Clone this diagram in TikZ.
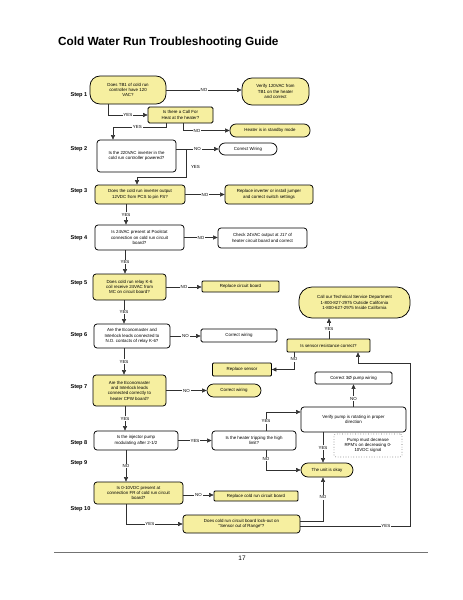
\documentclass[tikz,border=0pt]{standalone}
\usepackage{fontspec}
\setmainfont{Liberation Sans}
\usepackage{xcolor}
\usetikzlibrary{arrows.meta,calc}
\definecolor{boxy}{HTML}{F6EFA0}
\definecolor{wire}{HTML}{303030}
\newcommand{\boxfont}{\fontsize{4.4}{5.3}\selectfont}
\tikzset{
  ybox/.style={draw=black, line width=0.75pt, fill=boxy, rounded corners=3pt, align=center, inner sep=1pt, font=\boxfont},
  wbox/.style={ybox, fill=white},
  pill/.style={rounded corners=#1},
  sz/.style 2 args={minimum width=#1pt, minimum height=#2pt},
  note/.style={draw=black!60, dotted, line width=0.6pt, rounded corners=2pt, align=center, inner sep=1pt, font=\boxfont},
  lbl/.style={fill=white, inner sep=0.8pt, font=\boxfont},
  arr/.style={draw=wire, line width=0.45pt, -{Triangle[length=4.5pt,width=4pt]}},
  steplab/.style={anchor=west, font=\bfseries\fontsize{5.6}{6}\selectfont},
}
\begin{document}
\begin{tikzpicture}[x=1pt, y=-1pt]
\fill[white] (0,0) rectangle (463,600);
\useasboundingbox (0,0) rectangle (463,600);

\node[anchor=west, font=\bfseries\fontsize{11.8}{13}\selectfont] (title) at (54.5,42.5) {Cold Water Run Troubleshooting Guide};

% step labels
\node[steplab] (s1) at (67,95) {Step 1};
\node[steplab] (s2) at (67,149) {Step 2};
\node[steplab] (s3) at (67,191) {Step 3};
\node[steplab] (s4) at (67,238) {Step 4};
\node[steplab] (s5) at (67,283) {Step 5};
\node[steplab] (s6) at (67,335) {Step 6};
\node[steplab] (s7) at (67,387) {Step 7};
\node[steplab] (s8) at (67,443) {Step 8};
\node[steplab] (s9) at (67,463) {Step 9};
\node[steplab] (s10) at (67,509) {Step 10};

% questions and answers
\node[ybox, pill=10pt, sz={76}{28}] (q1) at (128,90) {Does TB1 of cold run\\controller have 120\\VAC?};
\node[ybox, pill=10pt, sz={67}{27}] (v1) at (275.5,91.5) {Verify 120VAC from\\TB1 on the heater\\and correct};
\node[ybox, rounded corners=1.5pt, sz={65}{16}] (call) at (180.5,115) {Is there a Call For\\Heat at the heater?};
\node[ybox, pill=6pt, sz={80}{13}] (stand) at (270,130.5) {Heater is in standby mode};
\node[wbox, sz={79}{32}] (q2) at (136.5,156) {Is the 220VAC inverter in the\\cold run controller powered?};
\node[wbox, pill=6pt, sz={58}{12}] (cw2) at (248,149) {Correct Wiring};
\node[ybox, sz={90}{19}] (q3) at (140,194.5) {Does the cold run inverter output\\12VDC from PCS to pin FS?};
\node[ybox, sz={88}{19}] (r3) at (269,194.5) {Replace inverter or install jumper\\and correct switch settings};
\node[wbox, sz={89}{25}] (q4) at (139.5,237.5) {Is 24VAC present at Poolstat\\connection on cold run circuit\\board?};
\node[wbox, sz={89}{20}] (c4) at (262.5,238) {Check 24VAC output at J17 of\\heater circuit board and correct};
\node[ybox, sz={73}{26}] (q5) at (129.5,287) {Does cold run relay K-6\\coil receive 24VAC from\\MC on circuit board?};
\node[ybox, rounded corners=1pt, sz={77}{11}] (r5) at (240.5,286.5) {Replace circuit board};
\node[wbox, sz={76}{24}] (q6) at (132,336) {Are the Economaster and\\Interlock leads connected to\\N.O. contacts of relay K-6?};
\node[wbox, rounded corners=1.5pt, sz={76}{13}] (cw6) at (239,335.5) {Correct wiring};
\node[ybox, sz={73}{31}] (q7) at (129.5,390.5) {Are the Economaster\\and Interlock leads\\connected correctly to\\heater CPW board?};
\node[ybox, pill=6.5pt, sz={54}{13}] (cw7) at (234,390.5) {Correct wiring};
\node[wbox, sz={84}{19}] (q8) at (136,440.5) {Is the injector pump\\modulating after 2-1/2};
\node[wbox, sz={84}{19}] (hl) at (254,440.5) {Is the heater tripping the high\\limit?};
\node[wbox, sz={105}{25}] (vp) at (353.5,419.5) {Verify pump is rotating in proper\\direction};
\node[note, sz={68}{23}] (pn) at (368,445.5) {Pump must decrease\\RPM's on decreasing 0-\\10VDC signal};
\node[ybox, pill=7pt, sz={52}{14}] (ok) at (327,470) {The unit is okay};
\node[wbox, rounded corners=1.5pt, sz={77}{12}] (p3) at (353.5,378) {Correct 3Ø pump wiring};
\node[ybox, rounded corners=1pt, sz={83}{13}] (sens) at (328.5,345.5) {Is sensor resistance correct?};
\node[ybox, rounded corners=1pt, sz={59}{13}] (rs) at (242,369.5) {Replace sensor};
\node[ybox, pill=13pt, sz={111}{31}] (tech) at (354.5,302.5) {Call our Technical Service Department\\1-800-827-2975 Outside California\\1-800-627-2975 Inside California};
\node[ybox, sz={89}{22}] (q10) at (138.5,493) {Is 0-10VDC present at\\connection FR of cold run circuit\\board?};
\node[ybox, rounded corners=1pt, sz={84}{10}] (r10) at (256,496) {Replace cold run circuit board};
\node[ybox, sz={117}{18}] (lock) at (241.5,524) {Does cold run circuit board lock-out on\\``Sensor out of Range''?};

\coordinate (j2) at (186,149);
\coordinate (rr) at (410,363);

% connectors
\draw[arr] (q1.east) -- node[lbl]{NO} (q1.east -| v1.west);
\draw[arr] ([xshift=-20pt]q1.south) |- node[lbl, pos=0.75]{YES} (call.west);
\draw[arr] ([xshift=-14.5pt]call.south) -- ++(0,4) -| node[lbl, pos=0.27]{YES} ([xshift=-23.5pt]q2.north);
\draw[arr] ([xshift=2.5pt]call.south) |- node[lbl, pos=0.65]{NO} (stand.west);
\draw[arr] (q2.east |- cw2.west) -- node[lbl]{NO} (cw2.west);
\draw[arr] (j2) -- node[lbl, right, pos=0.65, xshift=4pt]{YES} ++(0,28) -| ([xshift=-3pt]q3.north);
\draw[arr] (q3.east) -- node[lbl]{NO} (r3.west);
\draw[arr] ([xshift=-14pt]q3.south) -- node[lbl]{YES} ([xshift=-14pt]q3.south |- q4.north);
\draw[arr] (q4.east) -- node[lbl]{NO} (q4.east -| c4.west);
\draw[arr] ([xshift=-14.5pt]q4.south) -- node[lbl]{YES} ([xshift=-14.5pt]q4.south |- q5.north);
\draw[arr] (q5.east) -- node[lbl]{NO} (q5.east -| r5.west);
\draw[arr] ([xshift=-5.5pt]q5.south) -- node[lbl]{YES} ([xshift=-5.5pt]q5.south |- q6.north);
\draw[arr] (q6.east) -- node[lbl]{NO} (q6.east -| cw6.west);
\draw[arr] ([xshift=-8pt]q6.south) -- node[lbl]{YES} ([xshift=-8pt]q6.south |- q7.north);
\draw[arr] (q7.east) -- node[lbl]{NO} (q7.east -| cw7.west);
\draw[arr] ([xshift=-4.5pt]q7.south) -- node[lbl]{YES} ([xshift=-4.5pt]q7.south |- q8.north);
\draw[arr] (q8.east) -- node[lbl]{YES} (hl.west);
\draw[arr] ([xshift=12pt]hl.north) |- node[lbl, pos=0.25]{YES} ([yshift=7.5pt]vp.west);
\draw[arr] ([xshift=12pt]hl.south) |- node[lbl, pos=0.22]{NO} (ok.west);
\draw[arr] (vp.north) -- node[lbl, pos=0.35]{NO} (p3.south);
\draw[arr] ([xshift=-30.5pt]vp.south) -- node[lbl]{YES} ([xshift=-30.5pt]vp.south |- ok.north);
\draw[arr] ([yshift=3pt]lock.east) -| node[lbl, pos=0.77]{NO} ([xshift=-4pt]ok.south);
\draw[arr] ([yshift=-2pt]lock.east) -| node[lbl, pos=0.39]{YES} (rr) -| ([xshift=29.5pt]sens.south);
\draw[arr] ([xshift=0.5pt]sens.north) -- node[lbl]{YES} ([xshift=0.5pt]sens.north |- tech.south);
\draw[arr] ([xshift=-34.5pt]sens.south) |- node[lbl, pos=0.2]{NO} (rs.east);
\draw[arr] ([xshift=-10pt]q8.south) -- node[lbl]{NO} ([xshift=-10pt]q8.south |- q10.north);
\draw[arr] ([yshift=-2pt]q10.east) -- node[lbl]{NO} ([yshift=-2pt]q10.east -| r10.west);
\draw[arr] ([xshift=-12.5pt]q10.south) |- node[lbl, pos=0.71]{YES} (lock.west);

% footer
\coordinate (fl) at (54,552);
\coordinate (fr) at (428,552);
\draw[black!55, line width=0.6pt] (fl) -- (fr);
\node[font=\fontsize{6.5}{7}\selectfont] (pg) at (242,558.5) {17};
\end{tikzpicture}
\end{document}
